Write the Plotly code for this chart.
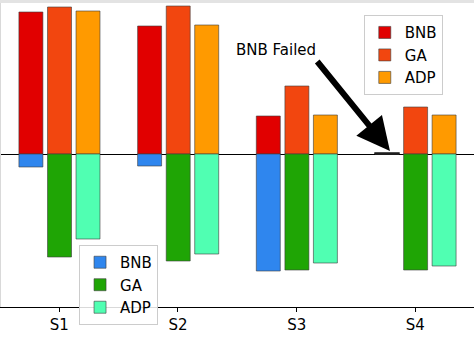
import plotly.graph_objects as go

categories = ["S1", "S2", "S3", "S4"]
series = ["BNB", "GA", "ADP"]

# upper (positive) values
pos_bnb = [1.42, 1.28, 0.38, 0.01]
pos_ga = [1.47, 1.48, 0.68, 0.47]
pos_adp = [1.43, 1.29, 0.39, 0.39]

# lower (negative) values
neg_bnb = [-0.13, -0.12, -1.17, 0.0]
neg_ga = [-1.03, -1.07, -1.16, -1.16]
neg_adp = [-0.85, -1.00, -1.09, -1.12]

pos_colors = ["#e10000", "#f2460f", "#ff9a00"]
neg_colors = ["#2f86ee", "#1fa505", "#50ffb2"]
offsets = [-0.34, -0.099, 0.141]
bar_w = 0.202
edge = "rgba(60,60,60,0.75)"

fig = go.Figure()

for name, vals, col, off in zip(series, [pos_bnb, pos_ga, pos_adp], pos_colors, offsets):
    line_cols = [("black" if (name == "BNB" and v <= 0.02) else edge) for v in vals]
    line_w = [(1.4 if (name == "BNB" and v <= 0.02) else 0.8) for v in vals]
    fig.add_trace(go.Bar(
        x=categories, y=vals, name=name, legend="legend",
        marker=dict(color=col, line=dict(color=line_cols, width=line_w)),
        width=bar_w, offset=off,
    ))

for name, vals, col, off in zip(series, [neg_bnb, neg_ga, neg_adp], neg_colors, offsets):
    fig.add_trace(go.Bar(
        x=categories, y=vals, name=name, legend="legend2",
        marker=dict(color=col, line=dict(color=edge, width=0.8)),
        width=bar_w, offset=off,
    ))

legend_style = dict(
    bgcolor="rgba(255,255,255,0.85)", bordercolor="#cccccc", borderwidth=1,
    font=dict(family="DejaVu Sans", size=15, color="black"),
    tracegroupgap=0, traceorder="normal", itemwidth=30,
)

fig.update_layout(
    width=474, height=351,
    margin=dict(l=1, r=0, t=3, b=44),
    paper_bgcolor="white", plot_bgcolor="white",
    barmode="overlay",
    showlegend=True,
    legend=dict(x=0.934, y=0.96, xanchor="right", yanchor="top", **legend_style),
    legend2=dict(x=0.165, y=0.204, xanchor="left", yanchor="top", **legend_style),
    font=dict(family="DejaVu Sans", size=15, color="black"),
    xaxis=dict(
        range=[-0.491, 3.494], showgrid=False, zeroline=False,
        showline=True, linecolor="black", linewidth=1.3,
        ticks="outside", ticklen=4, tickcolor="black", tickwidth=1.2,
        tickfont=dict(family="DejaVu Sans", size=15, color="black"),
    ),
    yaxis=dict(
        range=[-1.53, 1.51], showgrid=False, showticklabels=False, ticks="",
        zeroline=True, zerolinecolor="black", zerolinewidth=1.4,
        showline=True, linecolor="#d9d9d9", linewidth=2, mirror=False,
    ),
    shapes=[
        dict(type="rect", xref="paper", yref="paper", x0=-0.01, x1=1.01,
             y0=1.0, y1=1.012, fillcolor="#e3e3e3", line=dict(width=0), layer="above"),
    ],
    annotations=[
        dict(x=1.822, y=1.04, xref="x", yref="y", text="BNB Failed", showarrow=False,
             font=dict(family="DejaVu Sans", size=15, color="black")),
        dict(x=2.786, y=0.03, xref="x", yref="y", ax=2.163, ay=0.94, axref="x", ayref="y",
             text="", showarrow=True, arrowhead=2, arrowwidth=6, arrowsize=1.1,
             arrowcolor="black"),
    ],
)

fig.write_html("out.html")
